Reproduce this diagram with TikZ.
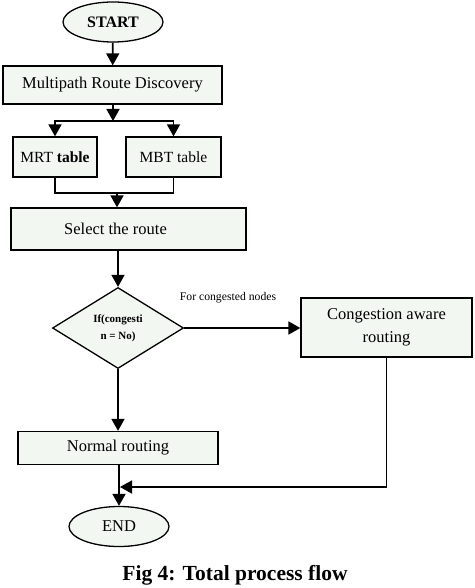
\documentclass[tikz,border=0pt]{standalone}
\usepackage{fontspec}
\setmainfont{Liberation Serif}
\usetikzlibrary{shapes.geometric,arrows.meta}
\definecolor{boxfill}{RGB}{242,247,242}
\begin{document}
\begin{tikzpicture}[x=1pt,y=-1pt,
  box/.style={draw, line width=1.3pt, fill=boxfill, inner sep=0pt, font=\fontsize{16.5}{23}\selectfont, align=center},
  oval/.style={draw, ellipse, line width=1.3pt, fill=boxfill, inner sep=0pt, minimum width=100pt, minimum height=40pt},
  arr/.style={line width=1.7pt, -{Triangle[length=12pt,width=13pt]}},
  ln/.style={line width=1.7pt}]
\useasboundingbox (0,0) rectangle (474,588);
\fill[white] (0,0) rectangle (474,588);

\node[oval, font=\fontsize{16}{18}\selectfont\bfseries] (start) at (113,22) {START};
\node[box, minimum width=219pt, minimum height=38pt] (mrd) at (112.5,85) {Multipath Route Discovery};
\node[box, minimum width=84pt, minimum height=40pt, font=\fontsize{15.5}{18}\selectfont] (mrt) at (55,157) {MRT \textbf{table}};
\node[box, minimum width=95pt, minimum height=40pt, font=\fontsize{15.5}{18}\selectfont] (mbt) at (173.5,157) {MBT table};
\node[box, minimum width=235pt, minimum height=42pt] (sel) at (128.5,229) {\hspace*{-26pt}Select the route};
\node[draw, diamond, line width=1.3pt, fill=boxfill, inner sep=0pt, minimum width=131pt, minimum height=81pt, align=center, font=\fontsize{11}{17}\selectfont\bfseries] (dia) at (118,328) {If(congesti\\n = No)};
\node[box, minimum width=171pt, minimum height=59pt] (cong) at (386.5,327.5) {Congestion aware\\routing};
\node[box, minimum width=200pt, minimum height=33pt] (norm) at (118,448) {Normal routing};
\node[oval, font=\fontsize{16.5}{18}\selectfont] (end) at (119,526.5) {END};
\node[font=\fontsize{11.7}{13}\selectfont] (lbl) at (228,298) {For congested nodes};
\node[font=\fontsize{21.5}{24}\selectfont\bfseries] (cap) at (235,575) {Fig 4: Total process flow};

\coordinate (j1) at (113,121);
\coordinate (j2) at (117,193);
\coordinate (j3) at (120,487);

\draw[arr] (start) -- (mrd);
\draw[arr] (mrd.south -| j1) -- (j1);
\draw[arr] (j1) -| (mrt.north);
\draw[arr] (j1) -| (mbt.north);
\draw[ln] (mrt.south) |- (j2);
\draw[ln] (mbt.south) |- (j2);
\draw[arr] (j2) -- (j2 |- sel.north);
\draw[arr] (sel.south -| dia.north) -- (dia.north);
\draw[arr] (dia.east) -- (dia.east -| cong.west);
\draw[arr] (dia.south) -- (norm.north -| dia.south);
\draw[arr] (norm.south -| end.north) -- (end.north);
\draw[arr] (cong.south) |- (j3);
\end{tikzpicture}
\end{document}
